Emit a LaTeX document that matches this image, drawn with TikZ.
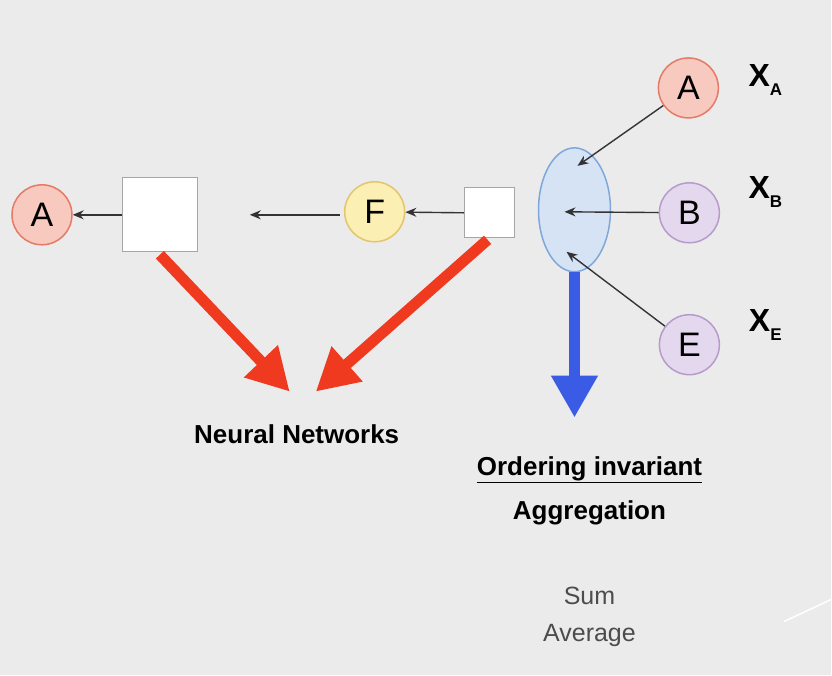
\documentclass[tikz,border=0pt]{standalone}
\usepackage{fontspec}
\setmainfont{Liberation Sans}
\usetikzlibrary{shapes.geometric,arrows.meta}
\definecolor{bg}{HTML}{EBEBEB}
\definecolor{pinkf}{HTML}{F8C9BE}\definecolor{pinkd}{HTML}{E57A66}
\definecolor{yelf}{HTML}{FBEFB3}\definecolor{yeld}{HTML}{E3C56E}
\definecolor{lavf}{HTML}{E4D8EE}\definecolor{lavd}{HTML}{B69BCB}
\definecolor{bluf}{HTML}{D5E3F5}\definecolor{blud}{HTML}{7FA8DA}
\definecolor{bigblue}{HTML}{3A5BE3}\definecolor{red}{HTML}{F03A1F}
\begin{document}
\begin{tikzpicture}[x=1pt,y=-1pt,
 circ/.style={circle,draw=#1d,fill=#1f,line width=1.5pt,minimum size=60pt,inner sep=0pt,font=\fontsize{34}{34}\selectfont},
 box/.style={draw=gray!70,fill=white,line width=1.2pt,inner sep=0pt},
 thin/.style={-{Stealth[length=11pt,width=9pt]},line width=1.4pt,black!80},
 fat/.style={-{Triangle[length=42pt,width=44pt]},line width=11pt,#1},
 lbl/.style={font=\bfseries\fontsize{26}{26}\selectfont},
 xl/.style={font=\bfseries\fontsize{32}{32}\selectfont}]
\fill[bg] (0,0) rectangle (832,676);
\draw[white,line width=1.5pt] (785,622) -- (832,600);
\node[circ=pink] (A1) at (42,215) {A};
\node[box,minimum width=75pt,minimum height=74pt] (S1) at (160,215) {};
\node[circ=yel] (F) at (375,212) {F};
\node[box,minimum size=50pt] (S2) at (490,213) {};
\node[ellipse,draw=blud,fill=bluf,line width=1.5pt,minimum width=72pt,minimum height=124pt] (E0) at (575,210) {};
\node[circ=pink] (A2) at (689,88) {A};
\node[circ=lav] (B) at (690,213) {B};
\node[circ=lav] (E) at (690,345) {E};
\node[xl] (XA) at (766,80) {X\raisebox{-9pt}{\fontsize{17}{17}\selectfont A}};
\node[xl] (XB) at (766,192) {X\raisebox{-9pt}{\fontsize{17}{17}\selectfont B}};
\node[xl] (XE) at (766,325) {X\raisebox{-9pt}{\fontsize{17}{17}\selectfont E}};
\coordinate (p1) at (250,215);
\coordinate (p2) at (340,215);
\draw[thin] (S1.west) -- (A1);
\draw[thin] (p2) -- (p1);
\draw[thin] (S2.west) -- (F);
\coordinate (ea) at (578,166);
\coordinate (eb) at (565,212);
\coordinate (ee) at (567,252);
\draw[thin] (A2) -- (ea);
\draw[thin] (B) -- (eb);
\draw[thin] (E) -- (ee);
\coordinate (bt) at (575,272);
\coordinate (bh) at (575,418);
\draw[fat=bigblue] (bt) -- (bh);
\coordinate (r1a) at (160,255);\coordinate (r1b) at (290,392);
\coordinate (r2a) at (488,240);\coordinate (r2b) at (316,392);
\draw[fat=red] (r1a) -- (r1b);
\draw[fat=red] (r2a) -- (r2b);
\node[lbl] (NN) at (297,435) {Neural Networks};
\node[lbl] (OI) at (590,470) {\underline{Ordering invariant}};
\node[lbl] (AG) at (590,513) {Aggregation};
\node[font=\fontsize{25}{25}\selectfont,text=black!70] (SU) at (590,596) {Sum};
\node[font=\fontsize{25}{25}\selectfont,text=black!70] (AV) at (590,636) {Average};
\end{tikzpicture}
\end{document}
